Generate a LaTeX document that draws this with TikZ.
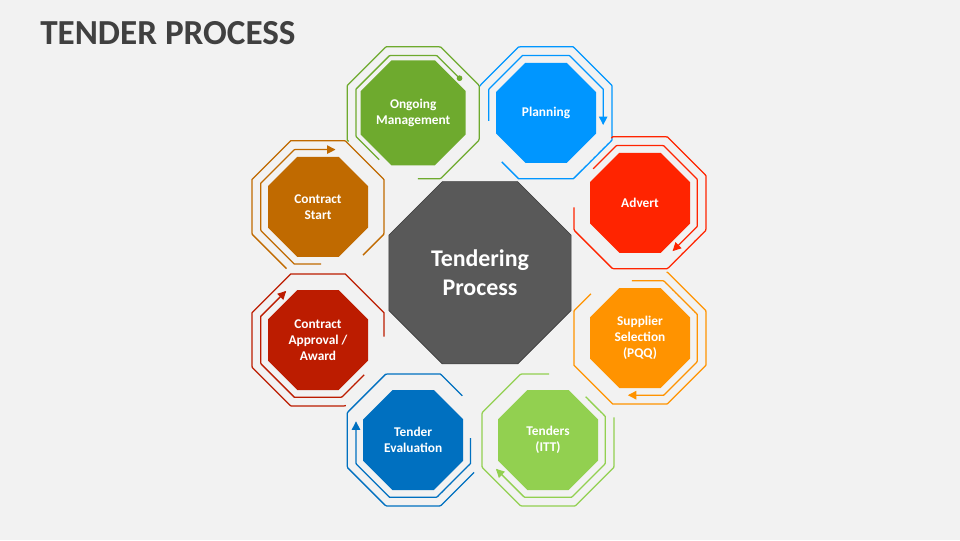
\documentclass[tikz,border=0pt]{standalone}
\usepackage{fontspec}
\setmainfont{Carlito}
\usetikzlibrary{shapes.geometric,arrows.meta}

\definecolor{bgcol}{HTML}{F2F2F2}
\definecolor{titlecol}{HTML}{404040}
\definecolor{hubcol}{HTML}{595959}
\definecolor{ongoingcol}{HTML}{6EAA2E}
\definecolor{plancol}{HTML}{0096FF}
\definecolor{advertcol}{HTML}{FF2400}
\definecolor{suppliercol}{HTML}{FF9300}
\definecolor{tenderscol}{HTML}{92D050}
\definecolor{evalcol}{HTML}{0070C0}
\definecolor{approvalcol}{HTML}{BC1C00}
\definecolor{startcol}{HTML}{C06A00}

\tikzset{
  octa/.style={regular polygon,regular polygon sides=8,minimum size=2.706cm,
    inner sep=0pt,fill=#1,text=white,font=\bfseries\fontsize{9.5}{11.5}\selectfont,
    align=center},
  hub/.style={regular polygon,regular polygon sides=8,minimum size=4.93cm,
    fill=hubcol,draw=hubcol!70!black,text=white,
    font=\bfseries\fontsize{17}{21}\selectfont,align=center},
  ringline/.style={draw=#1,line width=0.9pt}
}

% octagon outline, apothem #2, from angle #3 down to #4 (clockwise)
\newcommand{\octarc}[5]{%
  \draw[ringline=#1,#5] plot[domain=#3:#4,samples=181]
    (\x:{#2/cos(mod(\x+3600+22.5,45)-22.5)});}
\newcommand{\ringpair}[4]{%
  \begin{scope}[shift={(#1)}]
    \octarc{#2}{1.65}{#3+170}{#3-120}{}
    \octarc{#2}{1.43}{#3+200}{#3}{#4}
  \end{scope}}

\begin{document}
\begin{tikzpicture}[x=1cm,y=1cm]
  \path[fill=bgcol] (0,0) rectangle (24,13.5);
  \node[anchor=west,inner sep=0pt,text=titlecol,font=\bfseries\fontsize{25}{30}\selectfont]
    (title) at (1,12.68) {TENDER PROCESS};

  \node[hub] (hub) at (12,6.68) {Tendering\\Process};

  \node[octa=ongoingcol] (ongoing) at (10.33,10.68) {Ongoing\\Management};
  \node[octa=plancol] (plan) at (13.65,10.68) {Planning};
  \node[octa=advertcol] (advert) at (16,8.43) {Advert};
  \node[octa=suppliercol] (supplier) at (16,5.05) {Supplier\\Selection\\(PQQ)};
  \node[octa=tenderscol] (tenders) at (13.7,2.5) {Tenders\\(ITT)};
  \node[octa=evalcol] (eval) at (10.33,2.5) {Tender\\Evaluation};
  \node[octa=approvalcol] (approval) at (7.95,5) {Contract\\Approval /\\Award};
  \node[octa=startcol] (start) at (7.95,8.33) {Contract\\Start};

  \ringpair{ongoing}{ongoingcol}{34}{-{Circle[length=4pt]}}
  \ringpair{plan}{plancol}{-12}{-{Triangle[length=6pt,width=6pt]}}
  \ringpair{advert}{advertcol}{-56}{-{Triangle[length=6pt,width=6pt]}}
  \ringpair{supplier}{suppliercol}{-102}{-{Triangle[length=6pt,width=6pt]}}
  \ringpair{tenders}{tenderscol}{-151}{-{Triangle[length=6pt,width=6pt]}}
  \ringpair{eval}{evalcol}{-198}{-{Triangle[length=6pt,width=6pt]}}
  \ringpair{approval}{approvalcol}{123}{-{Triangle[length=6pt,width=6pt]}}
  \ringpair{start}{startcol}{73}{-{Triangle[length=6pt,width=6pt]}}
\end{tikzpicture}
\end{document}
